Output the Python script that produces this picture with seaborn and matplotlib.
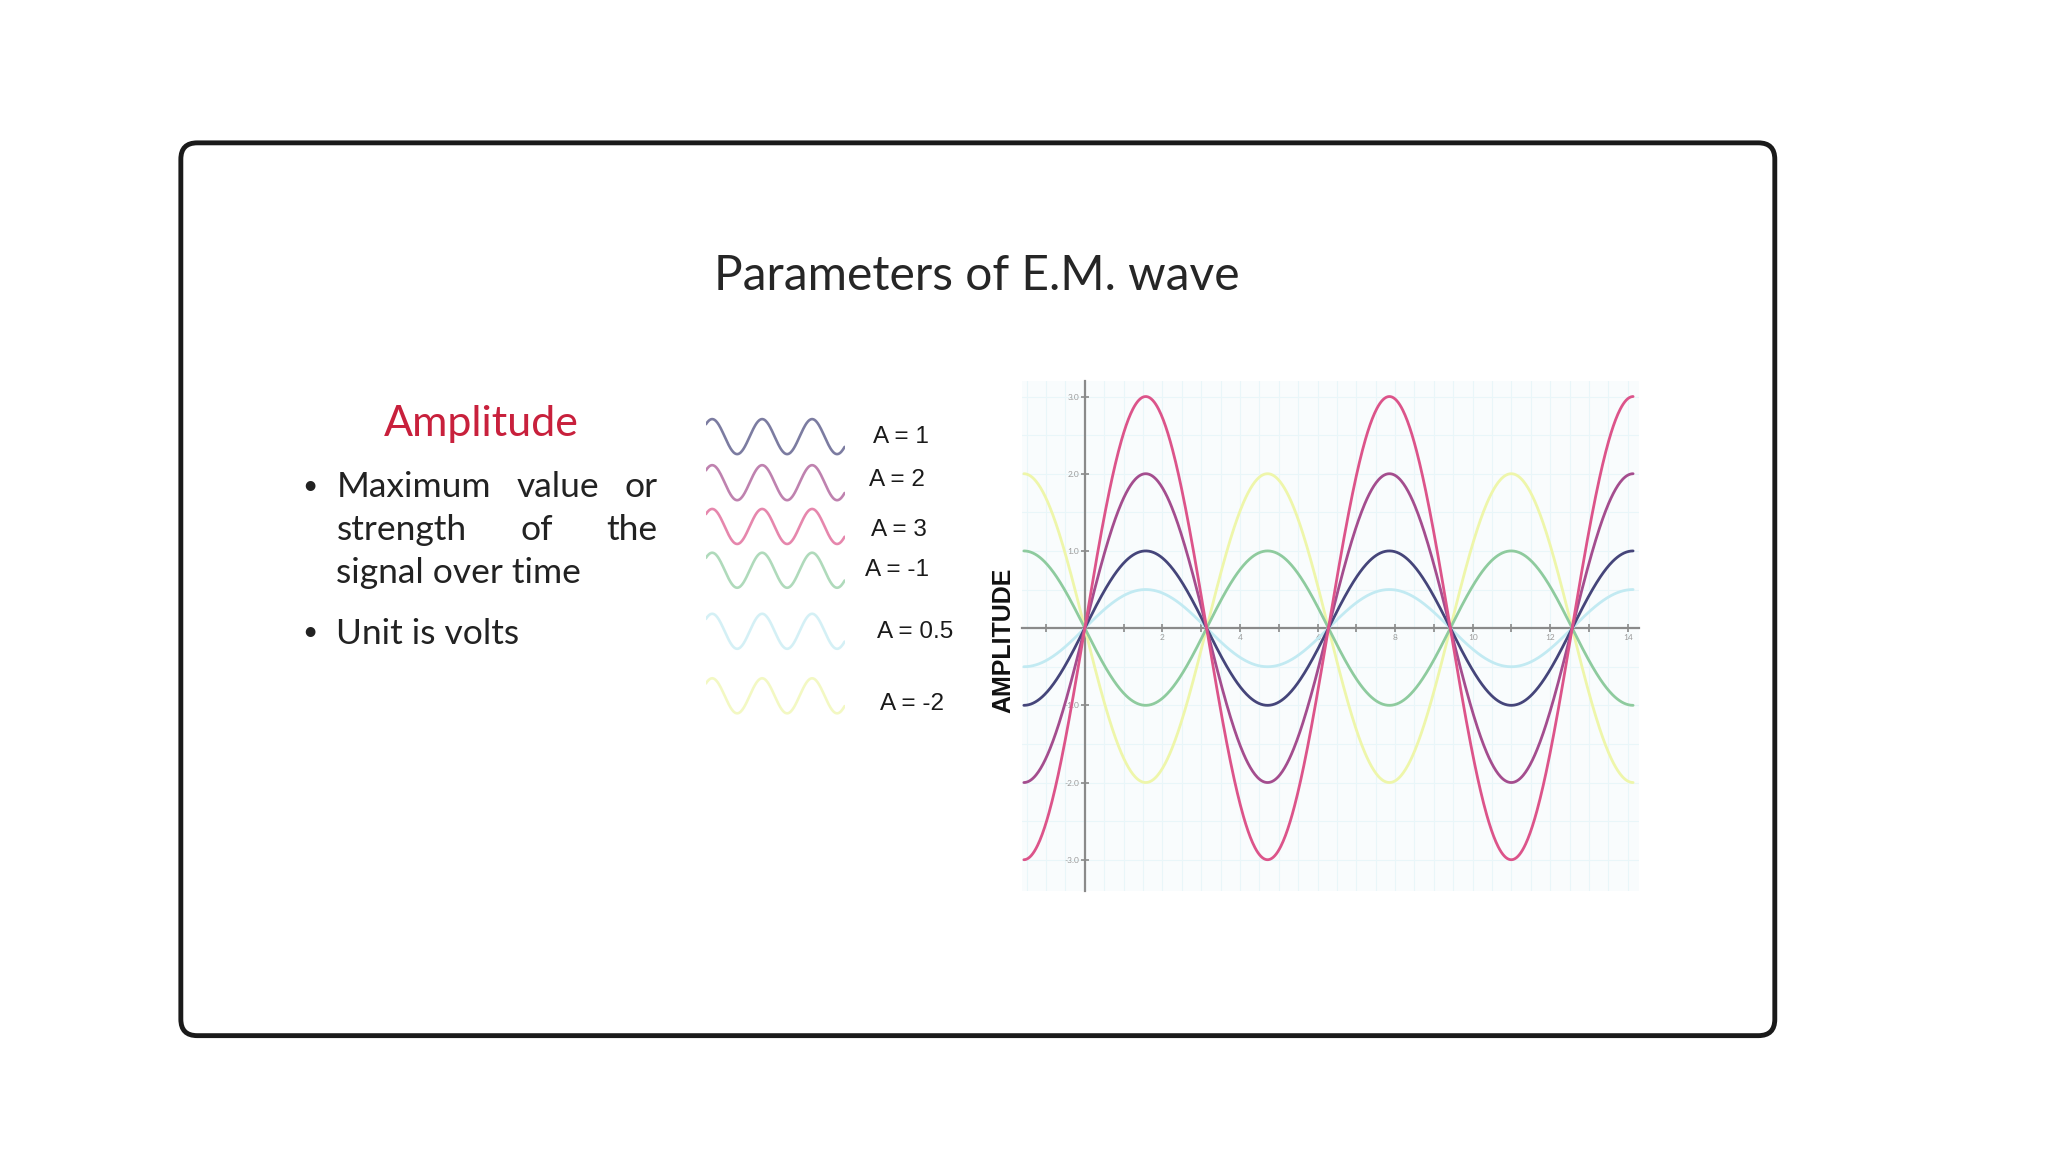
import numpy as np
import pandas as pd
import matplotlib.pyplot as plt
import matplotlib.patches as patches
import seaborn as sns

# values
amplitudes = [1, 2, 3, -1, 0.5, -2]
labels = ["A = 1", "A = 2", "A = 3", "A = -1", "A = 0.5", "A = -2"]
colors = ["#45457a", "#a44d8e", "#dc548a", "#8ecb9e", "#c2eaf2", "#eef6aa"]
x_start, x_end = -np.pi / 2, 4.5 * np.pi
x_ticks = [2, 4, 6, 8, 10, 12, 14]
y_ticks = [-3, -2, -1, 1, 2, 3]
title = "Parameters of E.M. wave"
heading = "Amplitude"
bullet_lines = [["Maximum", "value", "or"], ["strength", "of", "the"], ["signal over time"]]
bullet2 = "Unit is volts"

t = np.linspace(x_start, x_end, 800)
rows = []
for a, lab in zip(amplitudes, labels):
    for xv in t:
        rows.append({"x": xv, "y": a * np.sin(xv), "label": lab})
df = pd.DataFrame(rows)

sns.set_theme(style="white")
plt.rcParams["font.family"] = ["Lato", "DejaVu Sans"]

fig = plt.figure(figsize=(20.48, 11.52), dpi=100)
fig.patch.set_facecolor("white")

# slide frame
frame = patches.FancyBboxPatch((0.0883, 0.101), 0.7783, 0.775,
                               boxstyle="round,pad=0,rounding_size=0.008",
                               mutation_aspect=2048 / 1152,
                               transform=fig.transFigure, fill=False,
                               edgecolor="#1a1a1a", linewidth=3.5)
fig.patches.append(frame)

fig.text(0.477, 0.760, title, fontsize=34.5, color="#262626", ha="center", va="center")
fig.text(0.235, 0.632, heading, fontsize=31, color="#c8203c", ha="center", va="center")

# bullet text, first two lines justified
x0, x1 = 0.1643, 0.3209
line_y = [0.577, 0.5395, 0.503]
renderer = fig.canvas.get_renderer()
for words, yy in zip(bullet_lines, line_y):
    if len(words) == 1:
        fig.text(x0, yy, words[0], fontsize=25.5, color="#222222", ha="left", va="center")
        continue
    objs = [fig.text(0, yy, w, fontsize=25.5, color="#222222", ha="left", va="center") for w in words]
    widths = [o.get_window_extent(renderer).width / fig.bbox.width for o in objs]
    gap = (x1 - x0 - sum(widths)) / (len(words) - 1)
    pos = x0
    for o, w in zip(objs, widths):
        o.set_x(pos)
        pos += w + gap
fig.text(0.1475, 0.578, "•", fontsize=19, color="#222222", ha="left", va="center")
fig.text(0.1475, 0.451, "•", fontsize=19, color="#222222", ha="left", va="center")
fig.text(x0, 0.450, bullet2, fontsize=25.5, color="#222222", ha="left", va="center")

# legend icons and labels
icon_y = [0.621, 0.581, 0.543, 0.505, 0.452, 0.396]
label_pos = [(0.4265, 0.621), (0.4245, 0.583), (0.4255, 0.540),
             (0.4225, 0.505), (0.428, 0.451), (0.4295, 0.389)]
ti = np.linspace(0.25 * np.pi, 5.8 * np.pi, 300)
for yc, col, lab, (lx, ly) in zip(icon_y, colors, labels, label_pos):
    iax = fig.add_axes([0.3447, yc - 0.019, 0.0677, 0.038])
    sns.lineplot(x=ti, y=np.sin(ti), color=col, linewidth=1.9, alpha=0.7, ax=iax)
    iax.set_ylim(-1.25, 1.25)
    iax.set_xlim(ti[0], ti[-1])
    iax.axis("off")
    fig.text(lx, ly, lab, fontsize=17.5, color="#1a1a1a", ha="left", va="center",
             family=["Liberation Sans", "DejaVu Sans"])

fig.text(0.4897, 0.4444, "AMPLITUDE", rotation=90, fontsize=18, fontweight="bold",
         color="#111111", ha="center", va="center", family=["Liberation Sans", "DejaVu Sans"])

# main chart
ax = fig.add_axes([0.499, 0.2269, 0.3015, 0.4423])
ax.set_facecolor("#f9fcfd")
sns.lineplot(data=df, x="x", y="y", hue="label", sort=False,
             hue_order=["A = -2", "A = 0.5", "A = -1", "A = 1", "A = 2", "A = 3"],
             palette=dict(zip(labels, colors)), linewidth=2.0, legend=False, ax=ax)
ax.set_xlim(-1.62, 14.3)
ax.set_ylim(-3.4, 3.2)
ax.set_xlabel("")
ax.set_ylabel("")

for s in ["top", "right"]:
    ax.spines[s].set_visible(False)
ax.spines["left"].set_position(("data", 0))
ax.spines["bottom"].set_position(("data", 0))
for s in ["left", "bottom"]:
    ax.spines[s].set_color("#8a8a8a")
    ax.spines[s].set_linewidth(1.6)
    ax.spines[s].set_zorder(0.5)

ax.set_xticks(x_ticks)
ax.set_xticklabels([str(v) for v in x_ticks])
ax.set_xticks(np.arange(-1, 15, 1), minor=True)
ax.set_yticks(y_ticks)
ax.set_yticklabels([f"{v:.1f}" for v in y_ticks])
ax.tick_params(axis="both", which="both", direction="inout", length=6, width=1.2,
               color="#8a8a8a", labelsize=6, labelcolor="#9a9a9a",
               bottom=True, left=True)
ax.tick_params(axis="both", which="major", pad=1)

ax.grid(False)
for gx in np.arange(-1.5, 14.5, 0.5):
    ax.axvline(gx, color="#e9f6f9", linewidth=0.8, zorder=0)
for gy in np.arange(-3.0, 3.5, 0.5):
    ax.axhline(gy, color="#e9f6f9", linewidth=0.8, zorder=0)

fig.savefig("out.png", dpi=100, facecolor="white")
